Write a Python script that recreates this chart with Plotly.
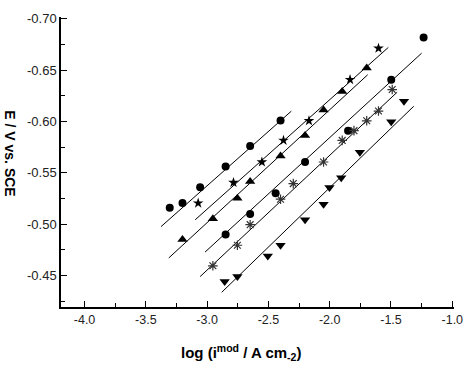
import plotly.graph_objects as go

# ---- data ----
a_x = [-3.305, -3.201, -3.057, -2.849, -2.649, -2.401]
a_y = [-0.516, -0.5205, -0.536, -0.556, -0.576, -0.601]
a_fit_x = [-3.376, -2.313]
a_fit_y = [-0.4976, -0.610]

b_x = [-3.073, -2.785, -2.553, -2.377, -2.169, -1.834, -1.602]
b_y = [-0.5205, -0.5405, -0.5605, -0.5815, -0.6006, -0.6406, -0.6711]
b_fit_x = [-3.097, -1.522]
b_fit_y = [-0.5043, -0.672]

c_x = [-3.201, -2.953, -2.753, -2.649, -2.401, -2.201, -2.050, -1.898, -1.698]
c_y = [-0.4852, -0.5052, -0.5253, -0.5415, -0.5663, -0.5863, -0.6111, -0.6292, -0.6520]
c_fit_x = [-3.313, -1.690]
c_fit_y = [-0.4671, -0.6454]

d_x = [-2.849, -2.649, -2.441, -2.201, -1.850, -1.498, -1.234]
d_y = [-0.490, -0.510, -0.530, -0.5605, -0.5910, -0.6406, -0.6816]
d_fit_x = [-3.017, -1.250]
d_fit_y = [-0.4728, -0.6664]

e_x = [-2.953, -2.753, -2.649, -2.401, -2.297, -2.050, -1.898, -1.802, -1.698, -1.602, -1.490]
e_y = [-0.4595, -0.4795, -0.4995, -0.5243, -0.5395, -0.5605, -0.5815, -0.591, -0.6006, -0.6101, -0.631]
e_fit_x = [-3.057, -1.450]
e_fit_y = [-0.449, -0.6284]

f_x = [-2.857, -2.753, -2.505, -2.401, -2.201, -2.050, -2.002, -1.906, -1.754, -1.498, -1.394]
f_y = [-0.4442, -0.449, -0.469, -0.4795, -0.5043, -0.5195, -0.5357, -0.5452, -0.570, -0.5996, -0.6196]
f_fit_x = [-2.881, -1.314]
f_fit_y = [-0.4337, -0.6148]

x_ticks = [-4.0, -3.5, -3.0, -2.5, -2.0, -1.5, -1.0]
x_tick_labels = ["-4.0", "-3.5", "-3.0", "-2.5", "-2.0", "-1.5", "-1.0"]
y_ticks = [-0.70, -0.65, -0.60, -0.55, -0.50, -0.45]
y_tick_labels = ["-0.70", "-0.65", "-0.60", "-0.55", "-0.50", "-0.45"]

series = [
    (a_x, a_y, a_fit_x, a_fit_y, dict(symbol="circle", size=8, color="black")),
    (b_x, b_y, b_fit_x, b_fit_y, dict(symbol="star", size=8, color="black")),
    (c_x, c_y, c_fit_x, c_fit_y, dict(symbol="triangle-up", size=9, color="black")),
    (d_x, d_y, d_fit_x, d_fit_y, dict(symbol="circle", size=8, color="black")),
    (e_x, e_y, e_fit_x, e_fit_y, dict(symbol="asterisk-open", size=8, color="#333",
                                      line=dict(color="#333", width=1.2))),
    (f_x, f_y, f_fit_x, f_fit_y, dict(symbol="triangle-down", size=9, color="black")),
]

fig = go.Figure()
for sx, sy, fx, fy, mk in series:
    fig.add_trace(go.Scatter(x=fx, y=fy, mode="lines",
                             line=dict(color="black", width=1), showlegend=False))
    fig.add_trace(go.Scatter(x=sx, y=sy, mode="markers", marker=mk, showlegend=False))

font = "Liberation Sans, Arial, sans-serif"
fig.update_layout(
    width=474, height=370,
    margin=dict(l=61, r=12, t=11, b=63),
    plot_bgcolor="white", paper_bgcolor="white",
    font=dict(family=font, color="black", size=12),
    showlegend=False,
)
fig.update_xaxes(
    range=[-4.192, -0.986], tickvals=x_ticks, ticktext=x_tick_labels,
    showgrid=False, zeroline=False, showline=True, linecolor="black", linewidth=1.5,
    ticks="inside", ticklen=6, tickwidth=1.2, tickcolor="black",
    minor=dict(ticks="inside", ticklen=4, dtick=0.25, tick0=-4.0, tickcolor="black"),
    tickfont=dict(size=12.5, color="#222"),
)
fig.update_yaxes(
    range=[-0.4194, -0.7016], tickvals=y_ticks, ticktext=y_tick_labels,
    showgrid=False, zeroline=False, showline=True, linecolor="black", linewidth=1.5,
    ticks="inside", ticklen=6, tickwidth=1.2, tickcolor="black",
    minor=dict(ticks="inside", ticklen=4, dtick=0.025, tick0=-0.70, tickcolor="black"),
    tickfont=dict(size=13, color="#222"),
)
fig.add_annotation(text="<b>log (i<sup>mod</sup> / A cm<sub>-2</sub>)</b>",
                   xref="paper", yref="paper", x=0.459, y=0, yshift=-45,
                   showarrow=False, font=dict(size=15),
                   xanchor="center", yanchor="middle")
fig.add_annotation(text="<b>E / V vs. SCE</b>", xref="paper", yref="paper",
                   x=0, xshift=-51, y=0.53, showarrow=False, textangle=90,
                   font=dict(size=14), xanchor="center", yanchor="middle")

fig.write_html("out.html", config={"displayModeBar": False},
               post_script="document.body.style.margin='0';")
